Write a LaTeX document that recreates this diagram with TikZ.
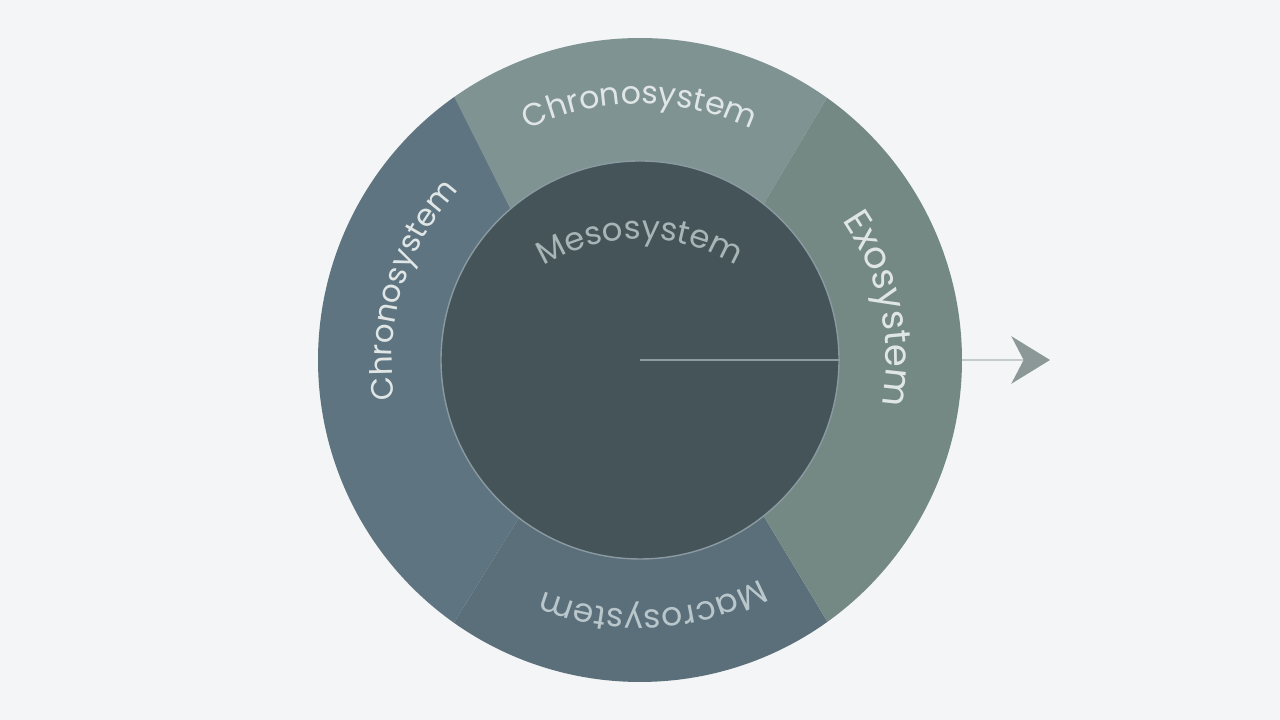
\documentclass[tikz,border=0pt]{standalone}
\usepackage{fontspec}
\newfontfamily\ringfont{Poppins}
\definecolor{bggray}{RGB}{243, 245, 246}
\definecolor{chronotop}{RGB}{127, 147, 147}
\definecolor{chronoleft}{RGB}{94, 116, 128}
\definecolor{exoright}{RGB}{116, 137, 132}
\definecolor{macrobot}{RGB}{90, 111, 121}
\definecolor{mesodark}{RGB}{68, 84, 89}
\definecolor{mesoedge}{RGB}{138, 154, 160}
\definecolor{labellight}{RGB}{224, 230, 230}
\definecolor{labeldim}{RGB}{185, 199, 204}
\definecolor{mesotext}{RGB}{168, 181, 183}
\definecolor{linegray}{RGB}{141, 156, 159}
\definecolor{tailgray}{RGB}{196, 203, 203}
\definecolor{headgray}{RGB}{140, 152, 152}
\usetikzlibrary{arrows.meta, positioning, calc, decorations.text}

\begin{document}
\begin{tikzpicture}[
  ringlabel/.style 2 args={decorate, decoration={text along path, text align=center,
    text={|\ringfont\fontsize{#1}{12}\selectfont|#2}}},
  arrow/.style={-{Stealth[length=11pt, width=13.5pt, inset=3.5pt, color=headgray]}, line width=0.6pt, tailgray}
]
  \useasboundingbox[fill=bggray] (-6.4, -3.6) rectangle (6.4, 3.6);
  \coordinate (hub) at (0, 0);
  \coordinate (ringE) at (3.22, 0);
  \coordinate (tip) at (4.10, 0);
  % arrow leaving the ring
  \draw[arrow] (ringE) -- (tip);
  % ring segments
  \fill[chronotop] (54.5:3.22) arc[start angle=54.5, end angle=125.2, radius=3.22]
    -- (130.6:1.99) arc[start angle=130.6, end angle=51.6, radius=1.99] -- cycle;
  \fill[chronoleft] (125.2:3.22) arc[start angle=125.2, end angle=234.7, radius=3.22]
    -- (232.5:1.99) arc[start angle=232.5, end angle=130.6, radius=1.99] -- cycle;
  \fill[macrobot] (234.7:3.22) arc[start angle=234.7, end angle=305.6, radius=3.22]
    -- (308.4:1.99) arc[start angle=308.4, end angle=232.5, radius=1.99] -- cycle;
  \fill[exoright] (-54.4:3.22) arc[start angle=-54.4, end angle=54.5, radius=3.22]
    -- (51.6:1.99) arc[start angle=51.6, end angle=-51.6, radius=1.99] -- cycle;
  % inner circle
  \node[circle, fill=mesodark, draw=mesoedge, line width=0.4pt, minimum size=3.98cm, inner sep=0pt] (meso) at (hub) {};
  \draw[linegray, line width=0.5pt] (hub) -- (meso.east);
  % labels on the ring
  \path[ringlabel={9}{Chronosystem}, decoration={text color=labellight}] (128:2.56) arc[start angle=128, end angle=52, radius=2.56];
  \path[ringlabel={8.8}{Chronosystem}, decoration={text color=labellight}] (200:2.48) arc[start angle=200, end angle=126, radius=2.48];
  \path[ringlabel={10.5}{Exosystem}, decoration={text color=labellight}] (50:2.46) arc[start angle=50, end angle=-26, radius=2.46];
  \path[ringlabel={9.4}{Macrosystem}, decoration={text color=labeldim}] (-50:2.5) arc[start angle=-50, end angle=-124, radius=2.5];
  \path[decorate, decoration={text along path, text align=center, text color=mesotext,
    text={|\ringfont\fontsize{9.2}{11}\selectfont|Mesosystem}}] (140:1.85) ++(0, -0.64) arc[start angle=140, end angle=40, radius=1.85];
\end{tikzpicture}
\end{document}
